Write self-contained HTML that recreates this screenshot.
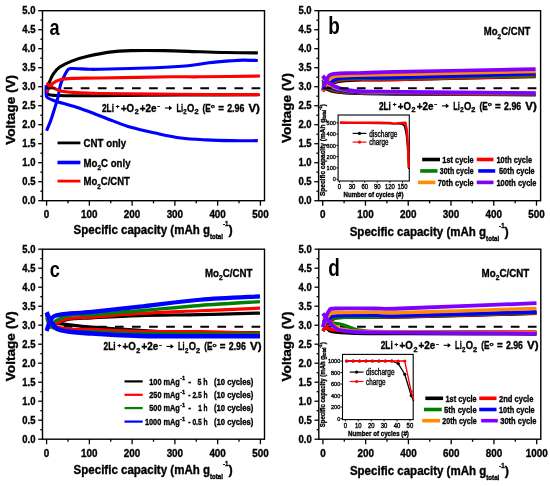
<!DOCTYPE html>
<html><head><meta charset="utf-8"><style>
html,body{margin:0;padding:0;background:#fff;width:550px;height:486px;overflow:hidden}
svg text{font-family:"Liberation Sans", sans-serif}
svg{will-change:transform}
svg text{stroke:#000;stroke-width:0.35px}
</style></head><body>
<svg width="550" height="486" viewBox="0 0 550 486" style="display:block;font-family:'Liberation Sans', sans-serif">
<rect width="550" height="486" fill="#fff"/>
<path d="M46.6,87.46 C46.74,88.47 46.74,92.27 47.46,93.54 C48.17,94.81 49.38,94.74 50.88,95.06 C52.37,95.38 52.8,95.31 56.43,95.44 C60.07,95.57 65.41,95.79 72.68,95.82 C79.95,95.85 86.58,95.72 100.05,95.63 C113.52,95.53 133.9,95.38 153.5,95.25 C173.1,95.12 200.25,94.96 217.64,94.87 C235.03,94.77 251.14,94.71 257.83,94.68" fill="none" stroke="#000000" stroke-width="3.1" stroke-linejoin="round" stroke-linecap="butt"/>
<path d="M46.6,87.84 C46.96,87.14 47.69,85.88 48.74,83.66 C49.79,81.44 51.1,77.26 52.89,74.54 C54.67,71.82 56.2,69.6 59.43,67.32 C62.66,65.04 67.55,62.7 72.26,60.86 C76.96,59.02 81.45,57.76 87.65,56.3 C93.85,54.84 102.19,53.07 109.46,52.12 C116.73,51.17 122.14,50.85 131.26,50.6 C140.39,50.35 152.72,50.41 164.19,50.6 C175.66,50.79 189.77,51.42 200.11,51.74 C210.44,52.06 216.57,52.31 226.19,52.5 C235.81,52.69 252.56,52.82 257.83,52.88" fill="none" stroke="#000000" stroke-width="3.1" stroke-linejoin="round" stroke-linecap="butt"/>
<path d="M46.6,130.78 C47.31,129.01 49.56,123.81 50.88,120.14 C52.19,116.47 53.33,112.54 54.51,108.74 C55.69,104.94 56.9,101.46 57.93,97.34 C58.96,93.22 59.53,87.84 60.71,84.04 C61.89,80.24 63.7,77.01 64.99,74.54 C66.27,72.07 67.12,70.23 68.41,69.22 C69.69,68.21 69.26,68.46 72.68,68.46 C76.1,68.46 84.37,69.09 88.93,69.22 C93.49,69.35 89,69.47 100.05,69.22 C111.1,68.97 140.53,68.27 155.21,67.7 C169.89,67.13 179.16,66.62 188.14,65.8 C197.12,64.98 202.1,63.58 209.09,62.76 C216.07,61.94 224.41,61.3 230.04,60.86 C235.67,60.42 238.24,60.16 242.87,60.1 C247.5,60.04 255.34,60.42 257.83,60.48" fill="none" stroke="#0000ff" stroke-width="3.1" stroke-linejoin="round" stroke-linecap="butt"/>
<path d="M46.17,85.18 C46.24,87.08 45.53,94.11 46.6,96.58 C47.67,99.05 50.66,99.11 52.59,100 C54.51,100.89 54.15,100.7 58.15,101.9 C62.14,103.1 70.47,105.26 76.53,107.22 C82.59,109.18 88.43,111.4 94.49,113.68 C100.55,115.96 106.82,118.62 112.88,120.9 C118.94,123.18 123.78,125.33 130.84,127.36 C137.89,129.39 146.87,131.29 155.21,133.06 C163.55,134.83 172.39,136.86 180.87,138 C189.35,139.14 197.61,139.46 206.09,139.9 C214.58,140.34 223.13,140.53 231.75,140.66 C240.37,140.79 253.49,140.66 257.83,140.66" fill="none" stroke="#0000ff" stroke-width="3.1" stroke-linejoin="round" stroke-linecap="butt"/>
<path d="M46.6,92.02 C47.65,90.56 50.48,85.37 52.89,83.28 C55.29,81.19 57.82,80.3 61.01,79.48 C64.2,78.66 65.49,78.59 72,78.34 C78.51,78.09 83.4,78.21 100.05,77.96 C116.7,77.71 155.21,77.01 171.89,76.82 C188.56,76.63 185.43,76.95 200.11,76.82 C214.79,76.69 250,76.19 259.97,76.06" fill="none" stroke="#ff0000" stroke-width="3.1" stroke-linejoin="round" stroke-linecap="butt"/>
<path d="M46.6,82.9 C47.53,83.66 49.59,86.07 52.16,87.46 C54.72,88.85 58.57,90.44 61.99,91.26 C65.41,92.08 66.34,92.02 72.68,92.4 C79.03,92.78 83.02,93.22 100.05,93.54 C117.08,93.86 148.23,94.11 174.88,94.3 C201.53,94.49 245.79,94.62 259.97,94.68" fill="none" stroke="#ff0000" stroke-width="3.1" stroke-linejoin="round" stroke-linecap="butt"/>
<line x1="46.6" y1="88.22" x2="260.4" y2="88.22" stroke="#000" stroke-width="2" stroke-dasharray="8.7,8.38"/>
<rect x="42.5" y="10.7" width="222" height="190" fill="none" stroke="#000" stroke-width="1.4"/>
<line x1="38.2" y1="200.7" x2="42.5" y2="200.7" stroke="#000" stroke-width="1.3"/>
<line x1="40.3" y1="191.2" x2="42.5" y2="191.2" stroke="#000" stroke-width="1.3"/>
<line x1="38.2" y1="181.7" x2="42.5" y2="181.7" stroke="#000" stroke-width="1.3"/>
<line x1="40.3" y1="172.2" x2="42.5" y2="172.2" stroke="#000" stroke-width="1.3"/>
<line x1="38.2" y1="162.7" x2="42.5" y2="162.7" stroke="#000" stroke-width="1.3"/>
<line x1="40.3" y1="153.2" x2="42.5" y2="153.2" stroke="#000" stroke-width="1.3"/>
<line x1="38.2" y1="143.7" x2="42.5" y2="143.7" stroke="#000" stroke-width="1.3"/>
<line x1="40.3" y1="134.2" x2="42.5" y2="134.2" stroke="#000" stroke-width="1.3"/>
<line x1="38.2" y1="124.7" x2="42.5" y2="124.7" stroke="#000" stroke-width="1.3"/>
<line x1="40.3" y1="115.2" x2="42.5" y2="115.2" stroke="#000" stroke-width="1.3"/>
<line x1="38.2" y1="105.7" x2="42.5" y2="105.7" stroke="#000" stroke-width="1.3"/>
<line x1="40.3" y1="96.2" x2="42.5" y2="96.2" stroke="#000" stroke-width="1.3"/>
<line x1="38.2" y1="86.7" x2="42.5" y2="86.7" stroke="#000" stroke-width="1.3"/>
<line x1="40.3" y1="77.2" x2="42.5" y2="77.2" stroke="#000" stroke-width="1.3"/>
<line x1="38.2" y1="67.7" x2="42.5" y2="67.7" stroke="#000" stroke-width="1.3"/>
<line x1="40.3" y1="58.2" x2="42.5" y2="58.2" stroke="#000" stroke-width="1.3"/>
<line x1="38.2" y1="48.7" x2="42.5" y2="48.7" stroke="#000" stroke-width="1.3"/>
<line x1="40.3" y1="39.2" x2="42.5" y2="39.2" stroke="#000" stroke-width="1.3"/>
<line x1="38.2" y1="29.7" x2="42.5" y2="29.7" stroke="#000" stroke-width="1.3"/>
<line x1="40.3" y1="20.2" x2="42.5" y2="20.2" stroke="#000" stroke-width="1.3"/>
<line x1="38.2" y1="10.7" x2="42.5" y2="10.7" stroke="#000" stroke-width="1.3"/>
<line x1="46.6" y1="200.7" x2="46.6" y2="205.7" stroke="#000" stroke-width="1.3"/>
<line x1="67.98" y1="200.7" x2="67.98" y2="203.3" stroke="#000" stroke-width="1.3"/>
<line x1="89.36" y1="200.7" x2="89.36" y2="205.7" stroke="#000" stroke-width="1.3"/>
<line x1="110.74" y1="200.7" x2="110.74" y2="203.3" stroke="#000" stroke-width="1.3"/>
<line x1="132.12" y1="200.7" x2="132.12" y2="205.7" stroke="#000" stroke-width="1.3"/>
<line x1="153.5" y1="200.7" x2="153.5" y2="203.3" stroke="#000" stroke-width="1.3"/>
<line x1="174.88" y1="200.7" x2="174.88" y2="205.7" stroke="#000" stroke-width="1.3"/>
<line x1="196.26" y1="200.7" x2="196.26" y2="203.3" stroke="#000" stroke-width="1.3"/>
<line x1="217.64" y1="200.7" x2="217.64" y2="205.7" stroke="#000" stroke-width="1.3"/>
<line x1="239.02" y1="200.7" x2="239.02" y2="203.3" stroke="#000" stroke-width="1.3"/>
<line x1="260.4" y1="200.7" x2="260.4" y2="205.7" stroke="#000" stroke-width="1.3"/>
<text x="35.5" y="204.4" font-size="10.3" font-weight="bold" text-anchor="end" fill="#000" textLength="13.2" lengthAdjust="spacingAndGlyphs" >0.0</text>
<text x="35.5" y="185.4" font-size="10.3" font-weight="bold" text-anchor="end" fill="#000" textLength="13.2" lengthAdjust="spacingAndGlyphs" >0.5</text>
<text x="35.5" y="166.4" font-size="10.3" font-weight="bold" text-anchor="end" fill="#000" textLength="13.2" lengthAdjust="spacingAndGlyphs" >1.0</text>
<text x="35.5" y="147.4" font-size="10.3" font-weight="bold" text-anchor="end" fill="#000" textLength="13.2" lengthAdjust="spacingAndGlyphs" >1.5</text>
<text x="35.5" y="128.4" font-size="10.3" font-weight="bold" text-anchor="end" fill="#000" textLength="13.2" lengthAdjust="spacingAndGlyphs" >2.0</text>
<text x="35.5" y="109.4" font-size="10.3" font-weight="bold" text-anchor="end" fill="#000" textLength="13.2" lengthAdjust="spacingAndGlyphs" >2.5</text>
<text x="35.5" y="90.4" font-size="10.3" font-weight="bold" text-anchor="end" fill="#000" textLength="13.2" lengthAdjust="spacingAndGlyphs" >3.0</text>
<text x="35.5" y="71.4" font-size="10.3" font-weight="bold" text-anchor="end" fill="#000" textLength="13.2" lengthAdjust="spacingAndGlyphs" >3.5</text>
<text x="35.5" y="52.4" font-size="10.3" font-weight="bold" text-anchor="end" fill="#000" textLength="13.2" lengthAdjust="spacingAndGlyphs" >4.0</text>
<text x="35.5" y="33.4" font-size="10.3" font-weight="bold" text-anchor="end" fill="#000" textLength="13.2" lengthAdjust="spacingAndGlyphs" >4.5</text>
<text x="35.5" y="14.4" font-size="10.3" font-weight="bold" text-anchor="end" fill="#000" textLength="13.2" lengthAdjust="spacingAndGlyphs" >5.0</text>
<text x="46.6" y="218.2" font-size="10.5" font-weight="bold" text-anchor="middle" fill="#000" textLength="5.5" lengthAdjust="spacingAndGlyphs" >0</text>
<text x="89.36" y="218.2" font-size="10.5" font-weight="bold" text-anchor="middle" fill="#000" textLength="16.5" lengthAdjust="spacingAndGlyphs" >100</text>
<text x="132.12" y="218.2" font-size="10.5" font-weight="bold" text-anchor="middle" fill="#000" textLength="16.5" lengthAdjust="spacingAndGlyphs" >200</text>
<text x="174.88" y="218.2" font-size="10.5" font-weight="bold" text-anchor="middle" fill="#000" textLength="16.5" lengthAdjust="spacingAndGlyphs" >300</text>
<text x="217.64" y="218.2" font-size="10.5" font-weight="bold" text-anchor="middle" fill="#000" textLength="16.5" lengthAdjust="spacingAndGlyphs" >400</text>
<text x="260.4" y="218.2" font-size="10.5" font-weight="bold" text-anchor="middle" fill="#000" textLength="16.5" lengthAdjust="spacingAndGlyphs" >500</text>
<text transform="translate(14.9,109.85) rotate(-90)" font-size="13.4" font-weight="bold" text-anchor="middle" textLength="70" lengthAdjust="spacingAndGlyphs">Voltage (V)</text>
<text x="73.6" y="234.1" font-size="12.6" font-weight="bold"><tspan textLength="136.4" lengthAdjust="spacingAndGlyphs">Specific capacity (mAh g</tspan><tspan font-size="7.2" dy="5" textLength="13" lengthAdjust="spacingAndGlyphs">total</tspan><tspan font-size="7.2" dy="-12.7" textLength="5.5" lengthAdjust="spacingAndGlyphs">-1</tspan><tspan dy="7.7">)</tspan></text>
<text x="0" y="34.9" font-size="22.6" font-weight="bold" style="stroke-width:0" transform="translate(49.5,0) scale(0.8,1)">a</text>
<text x="102" y="111.6" font-size="10.6" font-weight="bold" textLength="12" lengthAdjust="spacingAndGlyphs">2Li</text><text x="115.8" y="108.3" font-size="6.2" font-weight="bold" textLength="3.7" lengthAdjust="spacingAndGlyphs">+</text><text x="120.9" y="111.6" font-size="10.6" font-weight="bold" textLength="13.2" lengthAdjust="spacingAndGlyphs">+O</text><text x="134.7" y="114.2" font-size="6.8" font-weight="bold" textLength="4" lengthAdjust="spacingAndGlyphs">2</text><text x="139.8" y="111.6" font-size="10.6" font-weight="bold" textLength="16.8" lengthAdjust="spacingAndGlyphs">+2e</text><text x="157.3" y="108.3" font-size="6.2" font-weight="bold" textLength="2.9" lengthAdjust="spacingAndGlyphs">-</text><text x="176.4" y="111.6" font-size="10.6" font-weight="bold" textLength="6.6" lengthAdjust="spacingAndGlyphs">Li</text><text x="183.3" y="114.2" font-size="6.8" font-weight="bold" textLength="3.4" lengthAdjust="spacingAndGlyphs">2</text><text x="187.1" y="111.6" font-size="10.6" font-weight="bold" textLength="7.3" lengthAdjust="spacingAndGlyphs">O</text><text x="194.4" y="114.2" font-size="6.8" font-weight="bold" textLength="4.1" lengthAdjust="spacingAndGlyphs">2</text><text x="202.6" y="111.6" font-size="10.6" font-weight="bold" textLength="8.2" lengthAdjust="spacingAndGlyphs">(E</text><text x="210.8" y="108.3" font-size="6.2" font-weight="bold" textLength="4.1" lengthAdjust="spacingAndGlyphs">o</text><text x="218.2" y="111.6" font-size="10.6" font-weight="bold" textLength="5.7" lengthAdjust="spacingAndGlyphs">=</text><text x="227.2" y="111.6" font-size="10.6" font-weight="bold" textLength="17.1" lengthAdjust="spacingAndGlyphs">2.96</text><text x="248.4" y="111.6" font-size="10.6" font-weight="bold" textLength="11.5" lengthAdjust="spacingAndGlyphs">V)</text>
<path d="M164.9,108 H170.2" stroke="#000" stroke-width="1.1"/><path d="M169,105.6 L172.2,108 L169,110.4 Z" fill="#000"/>
<line x1="57.5" y1="142.9" x2="80.4" y2="142.9" stroke="#000000" stroke-width="2.8"/>
<line x1="57.5" y1="162.5" x2="80.4" y2="162.5" stroke="#0000ff" stroke-width="3.6"/>
<line x1="57.5" y1="181.1" x2="80.4" y2="181.1" stroke="#ff0000" stroke-width="2.8"/>
<text x="83.6" y="147.3" font-size="11.2" font-weight="bold" textLength="42.6" lengthAdjust="spacingAndGlyphs">CNT only</text>
<text x="83.6" y="166.5" font-size="11.2" font-weight="bold" textLength="46.9" lengthAdjust="spacingAndGlyphs">Mo<tspan font-size="7.5" dy="3.5">2</tspan><tspan dy="-3.5">C only</tspan></text>
<text x="83.6" y="185" font-size="11.2" font-weight="bold" textLength="46.3" lengthAdjust="spacingAndGlyphs">Mo<tspan font-size="7.5" dy="3.5">2</tspan><tspan dy="-3.5">C/CNT</tspan></text>
<path d="M322.7,84.8 C323.63,85.62 325.76,88.54 328.26,89.74 C330.75,90.94 333.1,91.45 337.67,92.02 C342.23,92.59 346.08,92.84 355.63,93.16 C365.17,93.48 364.96,93.67 394.96,93.92 C424.97,94.17 512.2,94.55 535.64,94.68" fill="none" stroke="#000000" stroke-width="3.6" stroke-linejoin="round" stroke-linecap="butt"/>
<path d="M322.7,90.5 C323.77,89.55 326.62,86.32 329.11,84.8 C331.61,83.28 333.25,82.2 337.67,81.38 C342.08,80.56 346.08,80.18 355.63,79.86 C365.17,79.54 364.96,80.05 394.96,79.48 C424.97,78.91 512.2,76.95 535.64,76.44" fill="none" stroke="#000000" stroke-width="3.6" stroke-linejoin="round" stroke-linecap="butt"/>
<path d="M322.7,82.9 C323.63,83.85 325.76,87.21 328.26,88.6 C330.75,89.99 333.1,90.56 337.67,91.26 C342.23,91.96 346.08,92.4 355.63,92.78 C365.17,93.16 364.96,93.29 394.96,93.54 C424.97,93.79 512.2,94.17 535.64,94.3" fill="none" stroke="#ff0000" stroke-width="3.4" stroke-linejoin="round" stroke-linecap="butt"/>
<path d="M322.7,91.26 C323.77,90.18 326.62,86.57 329.11,84.8 C331.61,83.03 333.25,81.57 337.67,80.62 C342.08,79.67 346.08,79.29 355.63,79.1 C365.17,78.91 364.96,79.99 394.96,79.48 C424.97,78.97 512.2,76.63 535.64,76.06" fill="none" stroke="#ff0000" stroke-width="3.4" stroke-linejoin="round" stroke-linecap="butt"/>
<path d="M322.7,81 C323.63,82.08 325.76,85.88 328.26,87.46 C330.75,89.04 333.1,89.68 337.67,90.5 C342.23,91.32 346.08,91.96 355.63,92.4 C365.17,92.84 364.96,92.91 394.96,93.16 C424.97,93.41 512.2,93.79 535.64,93.92" fill="none" stroke="#008000" stroke-width="3.4" stroke-linejoin="round" stroke-linecap="butt"/>
<path d="M322.7,91.26 C323.77,89.99 326.62,85.62 329.11,83.66 C331.61,81.7 333.25,80.37 337.67,79.48 C342.08,78.59 346.08,78.53 355.63,78.34 C365.17,78.15 364.96,78.85 394.96,78.34 C424.97,77.83 512.2,75.81 535.64,75.3" fill="none" stroke="#008000" stroke-width="3.4" stroke-linejoin="round" stroke-linecap="butt"/>
<path d="M322.7,79.1 C323.63,80.24 325.76,84.17 328.26,85.94 C330.75,87.71 333.1,88.73 337.67,89.74 C342.23,90.75 346.08,91.51 355.63,92.02 C365.17,92.53 364.96,92.53 394.96,92.78 C424.97,93.03 512.2,93.41 535.64,93.54" fill="none" stroke="#0000ff" stroke-width="3.4" stroke-linejoin="round" stroke-linecap="butt"/>
<path d="M322.7,91.26 C323.77,89.87 326.62,84.99 329.11,82.9 C331.61,80.81 333.25,79.61 337.67,78.72 C342.08,77.83 346.08,77.77 355.63,77.58 C365.17,77.39 364.96,78.21 394.96,77.58 C424.97,76.95 512.2,74.41 535.64,73.78" fill="none" stroke="#0000ff" stroke-width="3.4" stroke-linejoin="round" stroke-linecap="butt"/>
<path d="M322.7,77.58 C323.63,78.72 325.76,82.58 328.26,84.42 C330.75,86.26 333.1,87.46 337.67,88.6 C342.23,89.74 346.08,90.63 355.63,91.26 C365.17,91.89 364.96,92.08 394.96,92.4 C424.97,92.72 512.2,93.03 535.64,93.16" fill="none" stroke="#ff8c00" stroke-width="3.4" stroke-linejoin="round" stroke-linecap="butt"/>
<path d="M322.7,91.26 C323.63,89.61 326.19,83.85 328.26,81.38 C330.33,78.91 330.54,77.45 335.1,76.44 C339.66,75.43 345.65,75.62 355.63,75.3 C365.6,74.98 364.96,75.17 394.96,74.54 C424.97,73.91 512.2,72.01 535.64,71.5" fill="none" stroke="#ff8c00" stroke-width="3.4" stroke-linejoin="round" stroke-linecap="butt"/>
<path d="M322.7,75.68 C323.77,76.95 326.26,81.19 329.11,83.28 C331.96,85.37 336.17,87.02 339.8,88.22 C343.44,89.42 344.51,89.93 350.92,90.5 C357.34,91.07 347.5,91.2 378.29,91.64 C409.08,92.08 509.42,92.91 535.64,93.16" fill="none" stroke="#8000ff" stroke-width="3.8" stroke-linejoin="round" stroke-linecap="butt"/>
<path d="M322.7,90.12 C323.77,87.71 326.26,78.47 329.11,75.68 C331.96,72.89 335.39,73.84 339.8,73.4 C344.22,72.96 346.43,73.27 355.63,73.02 C364.82,72.77 364.96,72.54 394.96,71.88 C424.97,71.22 512.2,69.5 535.64,69.03" fill="none" stroke="#8000ff" stroke-width="3.7" stroke-linejoin="round" stroke-linecap="butt"/>
<line x1="322.7" y1="88.22" x2="536.5" y2="88.22" stroke="#000" stroke-width="2" stroke-dasharray="8.7,8.38"/>
<rect x="318.6" y="10.7" width="222" height="190" fill="none" stroke="#000" stroke-width="1.4"/>
<line x1="314.3" y1="200.7" x2="318.6" y2="200.7" stroke="#000" stroke-width="1.3"/>
<line x1="316.4" y1="191.2" x2="318.6" y2="191.2" stroke="#000" stroke-width="1.3"/>
<line x1="314.3" y1="181.7" x2="318.6" y2="181.7" stroke="#000" stroke-width="1.3"/>
<line x1="316.4" y1="172.2" x2="318.6" y2="172.2" stroke="#000" stroke-width="1.3"/>
<line x1="314.3" y1="162.7" x2="318.6" y2="162.7" stroke="#000" stroke-width="1.3"/>
<line x1="316.4" y1="153.2" x2="318.6" y2="153.2" stroke="#000" stroke-width="1.3"/>
<line x1="314.3" y1="143.7" x2="318.6" y2="143.7" stroke="#000" stroke-width="1.3"/>
<line x1="316.4" y1="134.2" x2="318.6" y2="134.2" stroke="#000" stroke-width="1.3"/>
<line x1="314.3" y1="124.7" x2="318.6" y2="124.7" stroke="#000" stroke-width="1.3"/>
<line x1="316.4" y1="115.2" x2="318.6" y2="115.2" stroke="#000" stroke-width="1.3"/>
<line x1="314.3" y1="105.7" x2="318.6" y2="105.7" stroke="#000" stroke-width="1.3"/>
<line x1="316.4" y1="96.2" x2="318.6" y2="96.2" stroke="#000" stroke-width="1.3"/>
<line x1="314.3" y1="86.7" x2="318.6" y2="86.7" stroke="#000" stroke-width="1.3"/>
<line x1="316.4" y1="77.2" x2="318.6" y2="77.2" stroke="#000" stroke-width="1.3"/>
<line x1="314.3" y1="67.7" x2="318.6" y2="67.7" stroke="#000" stroke-width="1.3"/>
<line x1="316.4" y1="58.2" x2="318.6" y2="58.2" stroke="#000" stroke-width="1.3"/>
<line x1="314.3" y1="48.7" x2="318.6" y2="48.7" stroke="#000" stroke-width="1.3"/>
<line x1="316.4" y1="39.2" x2="318.6" y2="39.2" stroke="#000" stroke-width="1.3"/>
<line x1="314.3" y1="29.7" x2="318.6" y2="29.7" stroke="#000" stroke-width="1.3"/>
<line x1="316.4" y1="20.2" x2="318.6" y2="20.2" stroke="#000" stroke-width="1.3"/>
<line x1="314.3" y1="10.7" x2="318.6" y2="10.7" stroke="#000" stroke-width="1.3"/>
<line x1="322.7" y1="200.7" x2="322.7" y2="205.7" stroke="#000" stroke-width="1.3"/>
<line x1="344.08" y1="200.7" x2="344.08" y2="203.3" stroke="#000" stroke-width="1.3"/>
<line x1="365.46" y1="200.7" x2="365.46" y2="205.7" stroke="#000" stroke-width="1.3"/>
<line x1="386.84" y1="200.7" x2="386.84" y2="203.3" stroke="#000" stroke-width="1.3"/>
<line x1="408.22" y1="200.7" x2="408.22" y2="205.7" stroke="#000" stroke-width="1.3"/>
<line x1="429.6" y1="200.7" x2="429.6" y2="203.3" stroke="#000" stroke-width="1.3"/>
<line x1="450.98" y1="200.7" x2="450.98" y2="205.7" stroke="#000" stroke-width="1.3"/>
<line x1="472.36" y1="200.7" x2="472.36" y2="203.3" stroke="#000" stroke-width="1.3"/>
<line x1="493.74" y1="200.7" x2="493.74" y2="205.7" stroke="#000" stroke-width="1.3"/>
<line x1="515.12" y1="200.7" x2="515.12" y2="203.3" stroke="#000" stroke-width="1.3"/>
<line x1="536.5" y1="200.7" x2="536.5" y2="205.7" stroke="#000" stroke-width="1.3"/>
<text x="311.6" y="204.4" font-size="10.3" font-weight="bold" text-anchor="end" fill="#000" textLength="13.2" lengthAdjust="spacingAndGlyphs" >0.0</text>
<text x="311.6" y="185.4" font-size="10.3" font-weight="bold" text-anchor="end" fill="#000" textLength="13.2" lengthAdjust="spacingAndGlyphs" >0.5</text>
<text x="311.6" y="166.4" font-size="10.3" font-weight="bold" text-anchor="end" fill="#000" textLength="13.2" lengthAdjust="spacingAndGlyphs" >1.0</text>
<text x="311.6" y="147.4" font-size="10.3" font-weight="bold" text-anchor="end" fill="#000" textLength="13.2" lengthAdjust="spacingAndGlyphs" >1.5</text>
<text x="311.6" y="128.4" font-size="10.3" font-weight="bold" text-anchor="end" fill="#000" textLength="13.2" lengthAdjust="spacingAndGlyphs" >2.0</text>
<text x="311.6" y="109.4" font-size="10.3" font-weight="bold" text-anchor="end" fill="#000" textLength="13.2" lengthAdjust="spacingAndGlyphs" >2.5</text>
<text x="311.6" y="90.4" font-size="10.3" font-weight="bold" text-anchor="end" fill="#000" textLength="13.2" lengthAdjust="spacingAndGlyphs" >3.0</text>
<text x="311.6" y="71.4" font-size="10.3" font-weight="bold" text-anchor="end" fill="#000" textLength="13.2" lengthAdjust="spacingAndGlyphs" >3.5</text>
<text x="311.6" y="52.4" font-size="10.3" font-weight="bold" text-anchor="end" fill="#000" textLength="13.2" lengthAdjust="spacingAndGlyphs" >4.0</text>
<text x="311.6" y="33.4" font-size="10.3" font-weight="bold" text-anchor="end" fill="#000" textLength="13.2" lengthAdjust="spacingAndGlyphs" >4.5</text>
<text x="311.6" y="14.4" font-size="10.3" font-weight="bold" text-anchor="end" fill="#000" textLength="13.2" lengthAdjust="spacingAndGlyphs" >5.0</text>
<text x="322.7" y="218.2" font-size="10.5" font-weight="bold" text-anchor="middle" fill="#000" textLength="5.5" lengthAdjust="spacingAndGlyphs" >0</text>
<text x="365.46" y="218.2" font-size="10.5" font-weight="bold" text-anchor="middle" fill="#000" textLength="16.5" lengthAdjust="spacingAndGlyphs" >100</text>
<text x="408.22" y="218.2" font-size="10.5" font-weight="bold" text-anchor="middle" fill="#000" textLength="16.5" lengthAdjust="spacingAndGlyphs" >200</text>
<text x="450.98" y="218.2" font-size="10.5" font-weight="bold" text-anchor="middle" fill="#000" textLength="16.5" lengthAdjust="spacingAndGlyphs" >300</text>
<text x="493.74" y="218.2" font-size="10.5" font-weight="bold" text-anchor="middle" fill="#000" textLength="16.5" lengthAdjust="spacingAndGlyphs" >400</text>
<text x="536.5" y="218.2" font-size="10.5" font-weight="bold" text-anchor="middle" fill="#000" textLength="16.5" lengthAdjust="spacingAndGlyphs" >500</text>
<text transform="translate(291,108.05) rotate(-90)" font-size="13.4" font-weight="bold" text-anchor="middle" textLength="70" lengthAdjust="spacingAndGlyphs">Voltage (V)</text>
<text x="349.7" y="235.9" font-size="12.6" font-weight="bold"><tspan textLength="136.4" lengthAdjust="spacingAndGlyphs">Specific capacity (mAh g</tspan><tspan font-size="7.2" dy="5" textLength="13" lengthAdjust="spacingAndGlyphs">total</tspan><tspan font-size="7.2" dy="-12.7" textLength="5.5" lengthAdjust="spacingAndGlyphs">-1</tspan><tspan dy="7.7">)</tspan></text>
<text x="0" y="34.3" font-size="23.6" font-weight="bold" style="stroke-width:0" transform="translate(328.3,0) scale(0.8,1)">b</text>
<text x="483.8" y="35" font-size="10.8" font-weight="bold" textLength="46.6" lengthAdjust="spacingAndGlyphs">Mo<tspan font-size="7.4" dy="3.5">2</tspan><tspan dy="-3.5">C/CNT</tspan></text>
<text x="378.9" y="109.5" font-size="10.6" font-weight="bold" textLength="12" lengthAdjust="spacingAndGlyphs">2Li</text><text x="392.7" y="106.2" font-size="6.2" font-weight="bold" textLength="3.7" lengthAdjust="spacingAndGlyphs">+</text><text x="397.8" y="109.5" font-size="10.6" font-weight="bold" textLength="13.2" lengthAdjust="spacingAndGlyphs">+O</text><text x="411.6" y="112.1" font-size="6.8" font-weight="bold" textLength="4" lengthAdjust="spacingAndGlyphs">2</text><text x="416.7" y="109.5" font-size="10.6" font-weight="bold" textLength="16.8" lengthAdjust="spacingAndGlyphs">+2e</text><text x="434.2" y="106.2" font-size="6.2" font-weight="bold" textLength="2.9" lengthAdjust="spacingAndGlyphs">-</text><text x="453.3" y="109.5" font-size="10.6" font-weight="bold" textLength="6.6" lengthAdjust="spacingAndGlyphs">Li</text><text x="460.2" y="112.1" font-size="6.8" font-weight="bold" textLength="3.4" lengthAdjust="spacingAndGlyphs">2</text><text x="464" y="109.5" font-size="10.6" font-weight="bold" textLength="7.3" lengthAdjust="spacingAndGlyphs">O</text><text x="471.3" y="112.1" font-size="6.8" font-weight="bold" textLength="4.1" lengthAdjust="spacingAndGlyphs">2</text><text x="479.5" y="109.5" font-size="10.6" font-weight="bold" textLength="8.2" lengthAdjust="spacingAndGlyphs">(E</text><text x="487.7" y="106.2" font-size="6.2" font-weight="bold" textLength="4.1" lengthAdjust="spacingAndGlyphs">o</text><text x="495.1" y="109.5" font-size="10.6" font-weight="bold" textLength="5.7" lengthAdjust="spacingAndGlyphs">=</text><text x="504.1" y="109.5" font-size="10.6" font-weight="bold" textLength="17.1" lengthAdjust="spacingAndGlyphs">2.96</text><text x="525.3" y="109.5" font-size="10.6" font-weight="bold" textLength="11.5" lengthAdjust="spacingAndGlyphs">V)</text>
<path d="M441.8,105.9 H447.1" stroke="#000" stroke-width="1.1"/><path d="M445.9,103.5 L449.1,105.9 L445.9,108.3 Z" fill="#000"/>
<line x1="422.2" y1="159.5" x2="440" y2="159.5" stroke="#000000" stroke-width="3.6"/>
<text x="442.3" y="163" font-size="9.8" font-weight="bold" text-anchor="start" fill="#000" textLength="31.3" lengthAdjust="spacingAndGlyphs" >1st cycle</text>
<line x1="476.7" y1="159.5" x2="493.5" y2="159.5" stroke="#ff0000" stroke-width="3.6"/>
<text x="496.5" y="163" font-size="9.8" font-weight="bold" text-anchor="start" fill="#000" textLength="35.6" lengthAdjust="spacingAndGlyphs" >10th cycle</text>
<line x1="420.2" y1="170.95" x2="437.5" y2="170.95" stroke="#008000" stroke-width="3.6"/>
<text x="439.8" y="174.45" font-size="9.8" font-weight="bold" text-anchor="start" fill="#000" textLength="33.8" lengthAdjust="spacingAndGlyphs" >30th cycle</text>
<line x1="478.2" y1="170.95" x2="495.2" y2="170.95" stroke="#0000ff" stroke-width="3.6"/>
<text x="499" y="174.45" font-size="9.8" font-weight="bold" text-anchor="start" fill="#000" textLength="35.7" lengthAdjust="spacingAndGlyphs" >50th cycle</text>
<line x1="418.1" y1="182.4" x2="435.4" y2="182.4" stroke="#ff8c00" stroke-width="3.6"/>
<text x="437.7" y="185.9" font-size="9.8" font-weight="bold" text-anchor="start" fill="#000" textLength="35.9" lengthAdjust="spacingAndGlyphs" >70th cycle</text>
<line x1="476.7" y1="182.4" x2="493.5" y2="182.4" stroke="#8000ff" stroke-width="3.6"/>
<text x="496.5" y="185.9" font-size="9.8" font-weight="bold" text-anchor="start" fill="#000" textLength="40" lengthAdjust="spacingAndGlyphs" >100th cycle</text>
<rect x="338.1" y="115" width="71.2" height="66" fill="#fff" stroke="#000" stroke-width="1.1"/>
<line x1="339.5" y1="181" x2="339.5" y2="182.8" stroke="#000" stroke-width="0.9"/>
<text x="339.5" y="188.9" font-size="6.4" font-weight="normal" text-anchor="middle" fill="#000" textLength="3.3" lengthAdjust="spacingAndGlyphs" stroke="#000" stroke-width="0.25">0</text>
<line x1="352.1" y1="181" x2="352.1" y2="182.8" stroke="#000" stroke-width="0.9"/>
<text x="352.1" y="188.9" font-size="6.4" font-weight="normal" text-anchor="middle" fill="#000" textLength="6.6" lengthAdjust="spacingAndGlyphs" stroke="#000" stroke-width="0.25">30</text>
<line x1="364.7" y1="181" x2="364.7" y2="182.8" stroke="#000" stroke-width="0.9"/>
<text x="364.7" y="188.9" font-size="6.4" font-weight="normal" text-anchor="middle" fill="#000" textLength="6.6" lengthAdjust="spacingAndGlyphs" stroke="#000" stroke-width="0.25">60</text>
<line x1="377.3" y1="181" x2="377.3" y2="182.8" stroke="#000" stroke-width="0.9"/>
<text x="377.3" y="188.9" font-size="6.4" font-weight="normal" text-anchor="middle" fill="#000" textLength="6.6" lengthAdjust="spacingAndGlyphs" stroke="#000" stroke-width="0.25">90</text>
<line x1="389.9" y1="181" x2="389.9" y2="182.8" stroke="#000" stroke-width="0.9"/>
<text x="389.9" y="188.9" font-size="6.4" font-weight="normal" text-anchor="middle" fill="#000" textLength="9.9" lengthAdjust="spacingAndGlyphs" stroke="#000" stroke-width="0.25">120</text>
<line x1="402.5" y1="181" x2="402.5" y2="182.8" stroke="#000" stroke-width="0.9"/>
<text x="402.5" y="188.9" font-size="6.4" font-weight="normal" text-anchor="middle" fill="#000" textLength="9.9" lengthAdjust="spacingAndGlyphs" stroke="#000" stroke-width="0.25">150</text>
<line x1="336.3" y1="179.2" x2="338.1" y2="179.2" stroke="#000" stroke-width="0.9"/>
<text x="335.9" y="181.4" font-size="6.2" font-weight="normal" text-anchor="end" fill="#000" textLength="3.1" lengthAdjust="spacingAndGlyphs" stroke="#000" stroke-width="0.25">0</text>
<line x1="336.3" y1="167.92" x2="338.1" y2="167.92" stroke="#000" stroke-width="0.9"/>
<text x="335.9" y="170.12" font-size="6.2" font-weight="normal" text-anchor="end" fill="#000" textLength="9.3" lengthAdjust="spacingAndGlyphs" stroke="#000" stroke-width="0.25">100</text>
<line x1="336.3" y1="156.64" x2="338.1" y2="156.64" stroke="#000" stroke-width="0.9"/>
<text x="335.9" y="158.84" font-size="6.2" font-weight="normal" text-anchor="end" fill="#000" textLength="9.3" lengthAdjust="spacingAndGlyphs" stroke="#000" stroke-width="0.25">200</text>
<line x1="336.3" y1="145.36" x2="338.1" y2="145.36" stroke="#000" stroke-width="0.9"/>
<text x="335.9" y="147.56" font-size="6.2" font-weight="normal" text-anchor="end" fill="#000" textLength="9.3" lengthAdjust="spacingAndGlyphs" stroke="#000" stroke-width="0.25">300</text>
<line x1="336.3" y1="134.08" x2="338.1" y2="134.08" stroke="#000" stroke-width="0.9"/>
<text x="335.9" y="136.28" font-size="6.2" font-weight="normal" text-anchor="end" fill="#000" textLength="9.3" lengthAdjust="spacingAndGlyphs" stroke="#000" stroke-width="0.25">400</text>
<line x1="336.3" y1="122.8" x2="338.1" y2="122.8" stroke="#000" stroke-width="0.9"/>
<text x="335.9" y="125" font-size="6.2" font-weight="normal" text-anchor="end" fill="#000" textLength="9.3" lengthAdjust="spacingAndGlyphs" stroke="#000" stroke-width="0.25">500</text>
<text x="373.5" y="196.6" font-size="7.2" font-weight="bold" text-anchor="middle" fill="#000" textLength="60" lengthAdjust="spacingAndGlyphs" >Number of cycles (#)</text>
<text transform="translate(324.6,150) rotate(-90)" font-size="7" font-weight="bold" text-anchor="middle" textLength="92" lengthAdjust="spacingAndGlyphs">Specific capacity (mAh g<tspan font-size="4.5" dy="1.5">total</tspan><tspan font-size="4.5" dy="-4">-1</tspan><tspan dy="2.5">)</tspan></text>
<path d="M339.92,122.8 L347.9,123.14 L364.7,123.25 L381.5,123.48 L398.3,123.7 L402.5,124.15 L404.6,126.18 L406.28,134.08 L407.54,146.49 L408.8,169.05" fill="none" stroke="#000000" stroke-width="1.6" stroke-linejoin="round"/>
<path d="M339.92,122.57 L352.1,122.69 L364.7,122.8 L377.3,122.8 L389.9,122.91 L394.1,123.59 L398.3,123.14 L405.44,122.8 L406.7,129.57 L407.96,145.36 L408.8,167.92" fill="none" stroke="#ff0000" stroke-width="2.4" stroke-linejoin="round"/>
<line x1="352.6" y1="133.4" x2="366.4" y2="133.4" stroke="#000" stroke-width="1.2"/><circle cx="359.5" cy="133.4" r="1.6" fill="#000"/>
<line x1="352.6" y1="142.1" x2="366.4" y2="142.1" stroke="#f00" stroke-width="1.2"/><circle cx="359.5" cy="142.1" r="1.6" fill="#f00"/>
<text x="369.2" y="136.6" font-size="8.4" font-weight="normal" text-anchor="start" fill="#000" textLength="28.3" lengthAdjust="spacingAndGlyphs" stroke="#000" stroke-width="0.3">discharge</text>
<text x="369.2" y="144.6" font-size="8.4" font-weight="normal" text-anchor="start" fill="#000" textLength="19.3" lengthAdjust="spacingAndGlyphs" stroke="#000" stroke-width="0.3">charge</text>
<line x1="46.6" y1="326.72" x2="260.4" y2="326.72" stroke="#000" stroke-width="2" stroke-dasharray="8.7,8.38"/>
<path d="M46.6,319.5 C47.31,319.94 48.6,321.46 50.88,322.16 C53.16,322.86 54.15,322.92 60.28,323.68 C66.41,324.44 75.68,325.71 87.65,326.72 C99.62,327.73 117.58,328.87 132.12,329.76 C146.66,330.65 153.57,331.53 174.88,332.04 C196.19,332.55 245.79,332.67 259.97,332.8" fill="none" stroke="#000000" stroke-width="3.2" stroke-linejoin="round" stroke-linecap="butt"/>
<path d="M46.6,329 C47.67,328.37 50.73,326.34 53.01,325.2 C55.29,324.06 57.58,323.17 60.28,322.16 C62.99,321.15 63.99,319.85 69.26,319.12 C74.54,318.39 80.17,318.36 91.93,317.79 C103.68,317.22 121.79,316.24 139.82,315.7 C157.85,315.16 180.08,315 200.11,314.56 C220.13,314.12 250,313.29 259.97,313.04" fill="none" stroke="#000000" stroke-width="3.2" stroke-linejoin="round" stroke-linecap="butt"/>
<path d="M46.6,317.6 C47.35,318.8 47.31,322.92 51.09,324.82 C54.87,326.72 62.46,328.24 69.26,329 C76.07,329.76 80.17,329 91.93,329.38 C103.68,329.76 121.79,330.9 139.82,331.28 C157.85,331.66 180.08,331.34 200.11,331.66 C220.13,331.98 250,332.93 259.97,333.18" fill="none" stroke="#ff0000" stroke-width="3.2" stroke-linejoin="round" stroke-linecap="butt"/>
<path d="M46.6,329 C47.67,328.37 50.73,326.4 53.01,325.2 C55.29,324 57.58,322.92 60.28,321.78 C62.99,320.64 63.99,319.12 69.26,318.36 C74.54,317.6 80.17,318.04 91.93,317.22 C103.68,316.4 121.79,314.5 139.82,313.42 C157.85,312.34 180.08,311.65 200.11,310.76 C220.13,309.87 250,308.54 259.97,308.1" fill="none" stroke="#ff0000" stroke-width="3.2" stroke-linejoin="round" stroke-linecap="butt"/>
<path d="M46.6,314.56 C47.35,316.59 47.31,323.93 51.09,326.72 C54.87,329.51 62.46,330.46 69.26,331.28 C76.07,332.1 80.17,331.28 91.93,331.66 C103.68,332.04 121.79,333.18 139.82,333.56 C157.85,333.94 180.08,333.81 200.11,333.94 C220.13,334.07 250,334.26 259.97,334.32" fill="none" stroke="#008000" stroke-width="3.4" stroke-linejoin="round" stroke-linecap="butt"/>
<path d="M46.6,329.76 C48.1,328.3 51.8,323.43 55.58,321.02 C59.36,318.61 63.21,316.4 69.26,315.32 C75.32,314.24 80.17,315.32 91.93,314.56 C103.68,313.8 121.79,312.28 139.82,310.76 C157.85,309.24 180.08,306.96 200.11,305.44 C220.13,303.92 250,302.27 259.97,301.64" fill="none" stroke="#008000" stroke-width="3.4" stroke-linejoin="round" stroke-linecap="butt"/>
<path d="M46.6,312.28 C47.35,313.86 48.81,318.8 51.09,321.78 C53.37,324.76 53.48,328.18 60.28,330.14 C67.09,332.1 78.67,332.61 91.93,333.56 C105.18,334.51 121.79,335.4 139.82,335.84 C157.85,336.28 180.08,336.16 200.11,336.22 C220.13,336.28 250,336.22 259.97,336.22" fill="none" stroke="#0000ff" stroke-width="4.6" stroke-linejoin="round" stroke-linecap="butt"/>
<path d="M46.6,330.9 C47.35,328.94 48.81,321.84 51.09,319.12 C53.37,316.4 53.48,315.76 60.28,314.56 C67.09,313.36 78.67,313.23 91.93,311.9 C105.18,310.57 121.79,308.61 139.82,306.58 C157.85,304.55 180.08,301.45 200.11,299.74 C220.13,298.03 250,296.89 259.97,296.32" fill="none" stroke="#0000ff" stroke-width="4.2" stroke-linejoin="round" stroke-linecap="butt"/>
<rect x="42.5" y="249.2" width="222" height="190" fill="none" stroke="#000" stroke-width="1.4"/>
<line x1="38.2" y1="439.2" x2="42.5" y2="439.2" stroke="#000" stroke-width="1.3"/>
<line x1="40.3" y1="429.7" x2="42.5" y2="429.7" stroke="#000" stroke-width="1.3"/>
<line x1="38.2" y1="420.2" x2="42.5" y2="420.2" stroke="#000" stroke-width="1.3"/>
<line x1="40.3" y1="410.7" x2="42.5" y2="410.7" stroke="#000" stroke-width="1.3"/>
<line x1="38.2" y1="401.2" x2="42.5" y2="401.2" stroke="#000" stroke-width="1.3"/>
<line x1="40.3" y1="391.7" x2="42.5" y2="391.7" stroke="#000" stroke-width="1.3"/>
<line x1="38.2" y1="382.2" x2="42.5" y2="382.2" stroke="#000" stroke-width="1.3"/>
<line x1="40.3" y1="372.7" x2="42.5" y2="372.7" stroke="#000" stroke-width="1.3"/>
<line x1="38.2" y1="363.2" x2="42.5" y2="363.2" stroke="#000" stroke-width="1.3"/>
<line x1="40.3" y1="353.7" x2="42.5" y2="353.7" stroke="#000" stroke-width="1.3"/>
<line x1="38.2" y1="344.2" x2="42.5" y2="344.2" stroke="#000" stroke-width="1.3"/>
<line x1="40.3" y1="334.7" x2="42.5" y2="334.7" stroke="#000" stroke-width="1.3"/>
<line x1="38.2" y1="325.2" x2="42.5" y2="325.2" stroke="#000" stroke-width="1.3"/>
<line x1="40.3" y1="315.7" x2="42.5" y2="315.7" stroke="#000" stroke-width="1.3"/>
<line x1="38.2" y1="306.2" x2="42.5" y2="306.2" stroke="#000" stroke-width="1.3"/>
<line x1="40.3" y1="296.7" x2="42.5" y2="296.7" stroke="#000" stroke-width="1.3"/>
<line x1="38.2" y1="287.2" x2="42.5" y2="287.2" stroke="#000" stroke-width="1.3"/>
<line x1="40.3" y1="277.7" x2="42.5" y2="277.7" stroke="#000" stroke-width="1.3"/>
<line x1="38.2" y1="268.2" x2="42.5" y2="268.2" stroke="#000" stroke-width="1.3"/>
<line x1="40.3" y1="258.7" x2="42.5" y2="258.7" stroke="#000" stroke-width="1.3"/>
<line x1="38.2" y1="249.2" x2="42.5" y2="249.2" stroke="#000" stroke-width="1.3"/>
<line x1="46.6" y1="439.2" x2="46.6" y2="444.2" stroke="#000" stroke-width="1.3"/>
<line x1="67.98" y1="439.2" x2="67.98" y2="441.8" stroke="#000" stroke-width="1.3"/>
<line x1="89.36" y1="439.2" x2="89.36" y2="444.2" stroke="#000" stroke-width="1.3"/>
<line x1="110.74" y1="439.2" x2="110.74" y2="441.8" stroke="#000" stroke-width="1.3"/>
<line x1="132.12" y1="439.2" x2="132.12" y2="444.2" stroke="#000" stroke-width="1.3"/>
<line x1="153.5" y1="439.2" x2="153.5" y2="441.8" stroke="#000" stroke-width="1.3"/>
<line x1="174.88" y1="439.2" x2="174.88" y2="444.2" stroke="#000" stroke-width="1.3"/>
<line x1="196.26" y1="439.2" x2="196.26" y2="441.8" stroke="#000" stroke-width="1.3"/>
<line x1="217.64" y1="439.2" x2="217.64" y2="444.2" stroke="#000" stroke-width="1.3"/>
<line x1="239.02" y1="439.2" x2="239.02" y2="441.8" stroke="#000" stroke-width="1.3"/>
<line x1="260.4" y1="439.2" x2="260.4" y2="444.2" stroke="#000" stroke-width="1.3"/>
<text x="35.5" y="442.9" font-size="10.3" font-weight="bold" text-anchor="end" fill="#000" textLength="13.2" lengthAdjust="spacingAndGlyphs" >0.0</text>
<text x="35.5" y="423.9" font-size="10.3" font-weight="bold" text-anchor="end" fill="#000" textLength="13.2" lengthAdjust="spacingAndGlyphs" >0.5</text>
<text x="35.5" y="404.9" font-size="10.3" font-weight="bold" text-anchor="end" fill="#000" textLength="13.2" lengthAdjust="spacingAndGlyphs" >1.0</text>
<text x="35.5" y="385.9" font-size="10.3" font-weight="bold" text-anchor="end" fill="#000" textLength="13.2" lengthAdjust="spacingAndGlyphs" >1.5</text>
<text x="35.5" y="366.9" font-size="10.3" font-weight="bold" text-anchor="end" fill="#000" textLength="13.2" lengthAdjust="spacingAndGlyphs" >2.0</text>
<text x="35.5" y="347.9" font-size="10.3" font-weight="bold" text-anchor="end" fill="#000" textLength="13.2" lengthAdjust="spacingAndGlyphs" >2.5</text>
<text x="35.5" y="328.9" font-size="10.3" font-weight="bold" text-anchor="end" fill="#000" textLength="13.2" lengthAdjust="spacingAndGlyphs" >3.0</text>
<text x="35.5" y="309.9" font-size="10.3" font-weight="bold" text-anchor="end" fill="#000" textLength="13.2" lengthAdjust="spacingAndGlyphs" >3.5</text>
<text x="35.5" y="290.9" font-size="10.3" font-weight="bold" text-anchor="end" fill="#000" textLength="13.2" lengthAdjust="spacingAndGlyphs" >4.0</text>
<text x="35.5" y="271.9" font-size="10.3" font-weight="bold" text-anchor="end" fill="#000" textLength="13.2" lengthAdjust="spacingAndGlyphs" >4.5</text>
<text x="35.5" y="252.9" font-size="10.3" font-weight="bold" text-anchor="end" fill="#000" textLength="13.2" lengthAdjust="spacingAndGlyphs" >5.0</text>
<text x="46.6" y="456.7" font-size="10.5" font-weight="bold" text-anchor="middle" fill="#000" textLength="5.5" lengthAdjust="spacingAndGlyphs" >0</text>
<text x="89.36" y="456.7" font-size="10.5" font-weight="bold" text-anchor="middle" fill="#000" textLength="16.5" lengthAdjust="spacingAndGlyphs" >100</text>
<text x="132.12" y="456.7" font-size="10.5" font-weight="bold" text-anchor="middle" fill="#000" textLength="16.5" lengthAdjust="spacingAndGlyphs" >200</text>
<text x="174.88" y="456.7" font-size="10.5" font-weight="bold" text-anchor="middle" fill="#000" textLength="16.5" lengthAdjust="spacingAndGlyphs" >300</text>
<text x="217.64" y="456.7" font-size="10.5" font-weight="bold" text-anchor="middle" fill="#000" textLength="16.5" lengthAdjust="spacingAndGlyphs" >400</text>
<text x="260.4" y="456.7" font-size="10.5" font-weight="bold" text-anchor="middle" fill="#000" textLength="16.5" lengthAdjust="spacingAndGlyphs" >500</text>
<text transform="translate(14.9,346.2) rotate(-90)" font-size="13.4" font-weight="bold" text-anchor="middle" textLength="70" lengthAdjust="spacingAndGlyphs">Voltage (V)</text>
<text x="73.6" y="473.6" font-size="12.6" font-weight="bold"><tspan textLength="136.4" lengthAdjust="spacingAndGlyphs">Specific capacity (mAh g</tspan><tspan font-size="7.2" dy="5" textLength="13" lengthAdjust="spacingAndGlyphs">total</tspan><tspan font-size="7.2" dy="-12.7" textLength="5.5" lengthAdjust="spacingAndGlyphs">-1</tspan><tspan dy="7.7">)</tspan></text>
<text x="0" y="277" font-size="22.6" font-weight="bold" style="stroke-width:0" transform="translate(49.7,0) scale(0.8,1)">c</text>
<text x="205" y="276.5" font-size="10.8" font-weight="bold" textLength="47.5" lengthAdjust="spacingAndGlyphs">Mo<tspan font-size="7.4" dy="3.5">2</tspan><tspan dy="-3.5">C/CNT</tspan></text>
<text x="103.6" y="350" font-size="10.6" font-weight="bold" textLength="12" lengthAdjust="spacingAndGlyphs">2Li</text><text x="117.4" y="346.7" font-size="6.2" font-weight="bold" textLength="3.7" lengthAdjust="spacingAndGlyphs">+</text><text x="122.5" y="350" font-size="10.6" font-weight="bold" textLength="13.2" lengthAdjust="spacingAndGlyphs">+O</text><text x="136.3" y="352.6" font-size="6.8" font-weight="bold" textLength="4" lengthAdjust="spacingAndGlyphs">2</text><text x="141.4" y="350" font-size="10.6" font-weight="bold" textLength="16.8" lengthAdjust="spacingAndGlyphs">+2e</text><text x="158.9" y="346.7" font-size="6.2" font-weight="bold" textLength="2.9" lengthAdjust="spacingAndGlyphs">-</text><text x="178" y="350" font-size="10.6" font-weight="bold" textLength="6.6" lengthAdjust="spacingAndGlyphs">Li</text><text x="184.9" y="352.6" font-size="6.8" font-weight="bold" textLength="3.4" lengthAdjust="spacingAndGlyphs">2</text><text x="188.7" y="350" font-size="10.6" font-weight="bold" textLength="7.3" lengthAdjust="spacingAndGlyphs">O</text><text x="196" y="352.6" font-size="6.8" font-weight="bold" textLength="4.1" lengthAdjust="spacingAndGlyphs">2</text><text x="204.2" y="350" font-size="10.6" font-weight="bold" textLength="8.2" lengthAdjust="spacingAndGlyphs">(E</text><text x="212.4" y="346.7" font-size="6.2" font-weight="bold" textLength="4.1" lengthAdjust="spacingAndGlyphs">o</text><text x="219.8" y="350" font-size="10.6" font-weight="bold" textLength="5.7" lengthAdjust="spacingAndGlyphs">=</text><text x="228.8" y="350" font-size="10.6" font-weight="bold" textLength="17.1" lengthAdjust="spacingAndGlyphs">2.96</text><text x="250" y="350" font-size="10.6" font-weight="bold" textLength="11.5" lengthAdjust="spacingAndGlyphs">V)</text>
<path d="M166.5,346.4 H171.8" stroke="#000" stroke-width="1.1"/><path d="M170.6,344 L173.8,346.4 L170.6,348.8 Z" fill="#000"/>
<line x1="124.5" y1="381.4" x2="142.7" y2="381.4" stroke="#000000" stroke-width="2.2"/>
<line x1="124.5" y1="394.8" x2="142.7" y2="394.8" stroke="#ff0000" stroke-width="2.2"/>
<line x1="124.5" y1="408.1" x2="142.7" y2="408.1" stroke="#008000" stroke-width="2.2"/>
<line x1="124.5" y1="421.6" x2="142.7" y2="421.6" stroke="#0000ff" stroke-width="2.2"/>
<text x="149.3" y="384.5" font-size="8.8" font-weight="bold" textLength="30.5" lengthAdjust="spacingAndGlyphs">100 mAg</text>
<text x="180.2" y="380.3" font-size="5.6" font-weight="bold" text-anchor="start" fill="#000" >-1</text>
<text x="188.3" y="384.5" font-size="8.8" font-weight="bold" text-anchor="start" fill="#000" >-</text>
<text x="197.4" y="384.5" font-size="8.8" font-weight="bold" text-anchor="start" fill="#000" textLength="10.2" lengthAdjust="spacingAndGlyphs" >5 h</text>
<text x="214" y="384.5" font-size="8.8" font-weight="bold" text-anchor="start" fill="#000" textLength="39.4" lengthAdjust="spacingAndGlyphs" >(10 cycles)</text>
<text x="149.3" y="397.9" font-size="8.8" font-weight="bold" textLength="30.5" lengthAdjust="spacingAndGlyphs">250 mAg</text>
<text x="180.2" y="393.7" font-size="5.6" font-weight="bold" text-anchor="start" fill="#000" >-1</text>
<text x="188.3" y="397.9" font-size="8.8" font-weight="bold" text-anchor="start" fill="#000" textLength="19.3" lengthAdjust="spacingAndGlyphs" >- 2.5 h</text>
<text x="214" y="397.9" font-size="8.8" font-weight="bold" text-anchor="start" fill="#000" textLength="39.4" lengthAdjust="spacingAndGlyphs" >(10 cycles)</text>
<text x="149.3" y="411.2" font-size="8.8" font-weight="bold" textLength="30.5" lengthAdjust="spacingAndGlyphs">500 mAg</text>
<text x="180.2" y="407" font-size="5.6" font-weight="bold" text-anchor="start" fill="#000" >-1</text>
<text x="188.3" y="411.2" font-size="8.8" font-weight="bold" text-anchor="start" fill="#000" >-</text>
<text x="198.2" y="411.2" font-size="8.8" font-weight="bold" text-anchor="start" fill="#000" textLength="9.4" lengthAdjust="spacingAndGlyphs" >1 h</text>
<text x="214" y="411.2" font-size="8.8" font-weight="bold" text-anchor="start" fill="#000" textLength="39.4" lengthAdjust="spacingAndGlyphs" >(10 cycles)</text>
<text x="144.9" y="424.7" font-size="8.8" font-weight="bold" textLength="34.9" lengthAdjust="spacingAndGlyphs">1000 mAg</text>
<text x="180.2" y="420.5" font-size="5.6" font-weight="bold" text-anchor="start" fill="#000" >-1</text>
<text x="188.3" y="424.7" font-size="8.8" font-weight="bold" text-anchor="start" fill="#000" textLength="19.3" lengthAdjust="spacingAndGlyphs" >- 0.5 h</text>
<text x="214" y="424.7" font-size="8.8" font-weight="bold" text-anchor="start" fill="#000" textLength="39.4" lengthAdjust="spacingAndGlyphs" >(10 cycles)</text>
<line x1="322.9" y1="326.72" x2="536.7" y2="326.72" stroke="#000" stroke-width="2" stroke-dasharray="8.7,8.38"/>
<path d="M322.9,325.2 C323.58,325.71 325.39,327.16 326.96,328.24 C328.53,329.32 327.78,330.84 332.31,331.66 C336.83,332.48 341.43,332.86 354.11,333.18 C366.8,333.5 378.02,333.43 408.42,333.56 C438.82,333.69 515.14,333.88 536.49,333.94" fill="none" stroke="#000000" stroke-width="3.4" stroke-linejoin="round" stroke-linecap="butt"/>
<path d="M322.9,330.9 C323.61,329.95 325.61,327.1 327.18,325.2 C328.74,323.3 329.46,320.83 332.31,319.5 C335.16,318.17 331.59,317.66 344.28,317.22 C356.97,316.78 376.39,317.47 408.42,316.84 C440.45,316.21 515.14,313.99 536.49,313.42" fill="none" stroke="#000000" stroke-width="3.4" stroke-linejoin="round" stroke-linecap="butt"/>
<path d="M322.9,325.2 C323.61,325.71 324.33,327.35 327.18,328.24 C330.03,329.13 330.03,329.95 340,330.52 C349.98,331.09 354.29,331.41 387.04,331.66 C419.79,331.91 511.58,331.98 536.49,332.04" fill="none" stroke="#ff0000" stroke-width="3.4" stroke-linejoin="round" stroke-linecap="butt"/>
<path d="M322.9,330.9 C323.61,329.95 325.61,327.1 327.18,325.2 C328.74,323.3 329.46,320.89 332.31,319.5 C335.16,318.11 331.59,317.35 344.28,316.84 C356.97,316.33 376.39,317.09 408.42,316.46 C440.45,315.83 515.14,313.61 536.49,313.04" fill="none" stroke="#ff0000" stroke-width="3.4" stroke-linejoin="round" stroke-linecap="butt"/>
<path d="M322.9,321.4 C324.47,321.65 328.92,322.35 332.31,322.92 C335.69,323.49 339.93,323.93 343.21,324.82 C346.49,325.71 348.88,327.29 351.98,328.24 C355.08,329.19 355.97,329.89 361.81,330.52 C367.66,331.15 357.93,331.66 387.04,332.04 C416.15,332.42 511.58,332.67 536.49,332.8" fill="none" stroke="#008000" stroke-width="3.4" stroke-linejoin="round" stroke-linecap="butt"/>
<path d="M322.9,327.1 C323.61,326.15 325.04,322.98 327.18,321.4 C329.31,319.82 327.6,318.36 335.73,317.6 C343.85,316.84 342.46,317.66 375.92,316.84 C409.38,316.02 509.73,313.36 536.49,312.66" fill="none" stroke="#008000" stroke-width="3.4" stroke-linejoin="round" stroke-linecap="butt"/>
<path d="M322.9,319.5 C323.97,320.13 326.82,321.84 329.31,323.3 C331.81,324.76 334.62,327.04 337.87,328.24 C341.11,329.44 340.57,329.95 348.77,330.52 C356.97,331.09 355.75,331.28 387.04,331.66 C418.33,332.04 511.58,332.61 536.49,332.8" fill="none" stroke="#0000ff" stroke-width="3.4" stroke-linejoin="round" stroke-linecap="butt"/>
<path d="M322.9,327.1 C323.43,326.15 324.68,323.11 326.11,321.4 C327.53,319.69 329.49,317.79 331.45,316.84 C333.41,315.89 330.45,315.95 337.87,315.7 C345.28,315.45 365.55,315.32 375.92,315.32 C386.29,315.32 373.32,316.27 400.08,315.7 C426.84,315.13 513.75,312.53 536.49,311.9" fill="none" stroke="#0000ff" stroke-width="3.6" stroke-linejoin="round" stroke-linecap="butt"/>
<path d="M322.9,317.6 C323.97,318.36 326.82,320.45 329.31,322.16 C331.81,323.87 334.62,326.47 337.87,327.86 C341.11,329.25 340.57,329.89 348.77,330.52 C356.97,331.15 355.75,331.28 387.04,331.66 C418.33,332.04 511.58,332.61 536.49,332.8" fill="none" stroke="#ff8c00" stroke-width="3.4" stroke-linejoin="round" stroke-linecap="butt"/>
<path d="M322.9,327.1 C323.43,325.83 324.86,321.72 326.11,319.5 C327.35,317.28 328.78,314.94 330.38,313.8 C331.99,312.66 328.14,312.91 335.73,312.66 C343.32,312.41 365.2,312.28 375.92,312.28 C386.65,312.28 373.32,313.29 400.08,312.66 C426.84,312.03 513.75,309.18 536.49,308.48" fill="none" stroke="#ff8c00" stroke-width="3.6" stroke-linejoin="round" stroke-linecap="butt"/>
<path d="M322.9,313.42 C324.11,315 327.67,320.26 330.17,322.92 C332.66,325.58 334.77,327.99 337.87,329.38 C340.97,330.77 342.43,330.77 348.77,331.28 C355.11,331.79 344.64,332.04 375.92,332.42 C407.21,332.8 509.73,333.37 536.49,333.56" fill="none" stroke="#8000ff" stroke-width="3.8" stroke-linejoin="round" stroke-linecap="butt"/>
<path d="M322.9,327.1 C323.26,325.83 324,322.22 325.04,319.5 C326.07,316.78 327.35,312.6 329.1,310.76 C330.85,308.92 327.71,308.86 335.51,308.48 C343.32,308.1 365.16,308.48 375.92,308.48 C386.68,308.48 373.32,309.37 400.08,308.48 C426.84,307.59 513.75,304.05 536.49,303.16" fill="none" stroke="#8000ff" stroke-width="3.8" stroke-linejoin="round" stroke-linecap="butt"/>
<rect x="318.8" y="249.2" width="222" height="190" fill="none" stroke="#000" stroke-width="1.4"/>
<line x1="314.5" y1="439.2" x2="318.8" y2="439.2" stroke="#000" stroke-width="1.3"/>
<line x1="316.6" y1="429.7" x2="318.8" y2="429.7" stroke="#000" stroke-width="1.3"/>
<line x1="314.5" y1="420.2" x2="318.8" y2="420.2" stroke="#000" stroke-width="1.3"/>
<line x1="316.6" y1="410.7" x2="318.8" y2="410.7" stroke="#000" stroke-width="1.3"/>
<line x1="314.5" y1="401.2" x2="318.8" y2="401.2" stroke="#000" stroke-width="1.3"/>
<line x1="316.6" y1="391.7" x2="318.8" y2="391.7" stroke="#000" stroke-width="1.3"/>
<line x1="314.5" y1="382.2" x2="318.8" y2="382.2" stroke="#000" stroke-width="1.3"/>
<line x1="316.6" y1="372.7" x2="318.8" y2="372.7" stroke="#000" stroke-width="1.3"/>
<line x1="314.5" y1="363.2" x2="318.8" y2="363.2" stroke="#000" stroke-width="1.3"/>
<line x1="316.6" y1="353.7" x2="318.8" y2="353.7" stroke="#000" stroke-width="1.3"/>
<line x1="314.5" y1="344.2" x2="318.8" y2="344.2" stroke="#000" stroke-width="1.3"/>
<line x1="316.6" y1="334.7" x2="318.8" y2="334.7" stroke="#000" stroke-width="1.3"/>
<line x1="314.5" y1="325.2" x2="318.8" y2="325.2" stroke="#000" stroke-width="1.3"/>
<line x1="316.6" y1="315.7" x2="318.8" y2="315.7" stroke="#000" stroke-width="1.3"/>
<line x1="314.5" y1="306.2" x2="318.8" y2="306.2" stroke="#000" stroke-width="1.3"/>
<line x1="316.6" y1="296.7" x2="318.8" y2="296.7" stroke="#000" stroke-width="1.3"/>
<line x1="314.5" y1="287.2" x2="318.8" y2="287.2" stroke="#000" stroke-width="1.3"/>
<line x1="316.6" y1="277.7" x2="318.8" y2="277.7" stroke="#000" stroke-width="1.3"/>
<line x1="314.5" y1="268.2" x2="318.8" y2="268.2" stroke="#000" stroke-width="1.3"/>
<line x1="316.6" y1="258.7" x2="318.8" y2="258.7" stroke="#000" stroke-width="1.3"/>
<line x1="314.5" y1="249.2" x2="318.8" y2="249.2" stroke="#000" stroke-width="1.3"/>
<line x1="322.9" y1="439.2" x2="322.9" y2="444.2" stroke="#000" stroke-width="1.3"/>
<line x1="344.28" y1="439.2" x2="344.28" y2="441.8" stroke="#000" stroke-width="1.3"/>
<line x1="365.66" y1="439.2" x2="365.66" y2="444.2" stroke="#000" stroke-width="1.3"/>
<line x1="387.04" y1="439.2" x2="387.04" y2="441.8" stroke="#000" stroke-width="1.3"/>
<line x1="408.42" y1="439.2" x2="408.42" y2="444.2" stroke="#000" stroke-width="1.3"/>
<line x1="429.8" y1="439.2" x2="429.8" y2="441.8" stroke="#000" stroke-width="1.3"/>
<line x1="451.18" y1="439.2" x2="451.18" y2="444.2" stroke="#000" stroke-width="1.3"/>
<line x1="472.56" y1="439.2" x2="472.56" y2="441.8" stroke="#000" stroke-width="1.3"/>
<line x1="493.94" y1="439.2" x2="493.94" y2="444.2" stroke="#000" stroke-width="1.3"/>
<line x1="515.32" y1="439.2" x2="515.32" y2="441.8" stroke="#000" stroke-width="1.3"/>
<line x1="536.7" y1="439.2" x2="536.7" y2="444.2" stroke="#000" stroke-width="1.3"/>
<text x="311.8" y="442.9" font-size="10.3" font-weight="bold" text-anchor="end" fill="#000" textLength="13.2" lengthAdjust="spacingAndGlyphs" >0.0</text>
<text x="311.8" y="423.9" font-size="10.3" font-weight="bold" text-anchor="end" fill="#000" textLength="13.2" lengthAdjust="spacingAndGlyphs" >0.5</text>
<text x="311.8" y="404.9" font-size="10.3" font-weight="bold" text-anchor="end" fill="#000" textLength="13.2" lengthAdjust="spacingAndGlyphs" >1.0</text>
<text x="311.8" y="385.9" font-size="10.3" font-weight="bold" text-anchor="end" fill="#000" textLength="13.2" lengthAdjust="spacingAndGlyphs" >1.5</text>
<text x="311.8" y="366.9" font-size="10.3" font-weight="bold" text-anchor="end" fill="#000" textLength="13.2" lengthAdjust="spacingAndGlyphs" >2.0</text>
<text x="311.8" y="347.9" font-size="10.3" font-weight="bold" text-anchor="end" fill="#000" textLength="13.2" lengthAdjust="spacingAndGlyphs" >2.5</text>
<text x="311.8" y="328.9" font-size="10.3" font-weight="bold" text-anchor="end" fill="#000" textLength="13.2" lengthAdjust="spacingAndGlyphs" >3.0</text>
<text x="311.8" y="309.9" font-size="10.3" font-weight="bold" text-anchor="end" fill="#000" textLength="13.2" lengthAdjust="spacingAndGlyphs" >3.5</text>
<text x="311.8" y="290.9" font-size="10.3" font-weight="bold" text-anchor="end" fill="#000" textLength="13.2" lengthAdjust="spacingAndGlyphs" >4.0</text>
<text x="311.8" y="271.9" font-size="10.3" font-weight="bold" text-anchor="end" fill="#000" textLength="13.2" lengthAdjust="spacingAndGlyphs" >4.5</text>
<text x="311.8" y="252.9" font-size="10.3" font-weight="bold" text-anchor="end" fill="#000" textLength="13.2" lengthAdjust="spacingAndGlyphs" >5.0</text>
<text x="322.9" y="456.7" font-size="10.5" font-weight="bold" text-anchor="middle" fill="#000" textLength="5.5" lengthAdjust="spacingAndGlyphs" >0</text>
<text x="365.66" y="456.7" font-size="10.5" font-weight="bold" text-anchor="middle" fill="#000" textLength="16.5" lengthAdjust="spacingAndGlyphs" >200</text>
<text x="408.42" y="456.7" font-size="10.5" font-weight="bold" text-anchor="middle" fill="#000" textLength="16.5" lengthAdjust="spacingAndGlyphs" >400</text>
<text x="451.18" y="456.7" font-size="10.5" font-weight="bold" text-anchor="middle" fill="#000" textLength="16.5" lengthAdjust="spacingAndGlyphs" >600</text>
<text x="493.94" y="456.7" font-size="10.5" font-weight="bold" text-anchor="middle" fill="#000" textLength="16.5" lengthAdjust="spacingAndGlyphs" >800</text>
<text x="536.7" y="456.7" font-size="10.5" font-weight="bold" text-anchor="middle" fill="#000" textLength="22" lengthAdjust="spacingAndGlyphs" >1000</text>
<text transform="translate(291.2,346.45) rotate(-90)" font-size="13.4" font-weight="bold" text-anchor="middle" textLength="70" lengthAdjust="spacingAndGlyphs">Voltage (V)</text>
<text x="349.9" y="475.3" font-size="12.6" font-weight="bold"><tspan textLength="136.4" lengthAdjust="spacingAndGlyphs">Specific capacity (mAh g</tspan><tspan font-size="7.2" dy="5" textLength="13" lengthAdjust="spacingAndGlyphs">total</tspan><tspan font-size="7.2" dy="-12.7" textLength="5.5" lengthAdjust="spacingAndGlyphs">-1</tspan><tspan dy="7.7">)</tspan></text>
<text x="0" y="275.6" font-size="23.6" font-weight="bold" style="stroke-width:0" transform="translate(328.2,0) scale(0.8,1)">d</text>
<text x="481.5" y="276.5" font-size="10.8" font-weight="bold" textLength="47.8" lengthAdjust="spacingAndGlyphs">Mo<tspan font-size="7.4" dy="3.5">2</tspan><tspan dy="-3.5">C/CNT</tspan></text>
<text x="380.7" y="348.9" font-size="10.6" font-weight="bold" textLength="12" lengthAdjust="spacingAndGlyphs">2Li</text><text x="394.5" y="345.6" font-size="6.2" font-weight="bold" textLength="3.7" lengthAdjust="spacingAndGlyphs">+</text><text x="399.6" y="348.9" font-size="10.6" font-weight="bold" textLength="13.2" lengthAdjust="spacingAndGlyphs">+O</text><text x="413.4" y="351.5" font-size="6.8" font-weight="bold" textLength="4" lengthAdjust="spacingAndGlyphs">2</text><text x="418.5" y="348.9" font-size="10.6" font-weight="bold" textLength="16.8" lengthAdjust="spacingAndGlyphs">+2e</text><text x="436" y="345.6" font-size="6.2" font-weight="bold" textLength="2.9" lengthAdjust="spacingAndGlyphs">-</text><text x="455.1" y="348.9" font-size="10.6" font-weight="bold" textLength="6.6" lengthAdjust="spacingAndGlyphs">Li</text><text x="462" y="351.5" font-size="6.8" font-weight="bold" textLength="3.4" lengthAdjust="spacingAndGlyphs">2</text><text x="465.8" y="348.9" font-size="10.6" font-weight="bold" textLength="7.3" lengthAdjust="spacingAndGlyphs">O</text><text x="473.1" y="351.5" font-size="6.8" font-weight="bold" textLength="4.1" lengthAdjust="spacingAndGlyphs">2</text><text x="481.3" y="348.9" font-size="10.6" font-weight="bold" textLength="8.2" lengthAdjust="spacingAndGlyphs">(E</text><text x="489.5" y="345.6" font-size="6.2" font-weight="bold" textLength="4.1" lengthAdjust="spacingAndGlyphs">o</text><text x="496.9" y="348.9" font-size="10.6" font-weight="bold" textLength="5.7" lengthAdjust="spacingAndGlyphs">=</text><text x="505.9" y="348.9" font-size="10.6" font-weight="bold" textLength="17.1" lengthAdjust="spacingAndGlyphs">2.96</text><text x="527.1" y="348.9" font-size="10.6" font-weight="bold" textLength="11.5" lengthAdjust="spacingAndGlyphs">V)</text>
<path d="M443.6,345.3 H448.9" stroke="#000" stroke-width="1.1"/><path d="M447.7,342.9 L450.9,345.3 L447.7,347.7 Z" fill="#000"/>
<line x1="425.3" y1="398.3" x2="443.1" y2="398.3" stroke="#000000" stroke-width="3.6"/>
<text x="445.4" y="401.8" font-size="9.8" font-weight="bold" text-anchor="start" fill="#000" textLength="31.3" lengthAdjust="spacingAndGlyphs" >1st cycle</text>
<line x1="479.2" y1="398.3" x2="496.5" y2="398.3" stroke="#ff0000" stroke-width="3.6"/>
<text x="499" y="401.8" font-size="9.8" font-weight="bold" text-anchor="start" fill="#000" textLength="34.4" lengthAdjust="spacingAndGlyphs" >2nd cycle</text>
<line x1="424" y1="409.5" x2="441.8" y2="409.5" stroke="#008000" stroke-width="3.6"/>
<text x="444.1" y="413" font-size="9.8" font-weight="bold" text-anchor="start" fill="#000" textLength="32.6" lengthAdjust="spacingAndGlyphs" >5th cycle</text>
<line x1="479.2" y1="409.5" x2="496.5" y2="409.5" stroke="#0000ff" stroke-width="3.6"/>
<text x="499" y="413" font-size="9.8" font-weight="bold" text-anchor="start" fill="#000" textLength="35.7" lengthAdjust="spacingAndGlyphs" >10th cycle</text>
<line x1="422.2" y1="420.7" x2="440" y2="420.7" stroke="#ff8c00" stroke-width="3.6"/>
<text x="442.3" y="424.2" font-size="9.8" font-weight="bold" text-anchor="start" fill="#000" textLength="34.4" lengthAdjust="spacingAndGlyphs" >20th cycle</text>
<line x1="481.2" y1="420.7" x2="497.8" y2="420.7" stroke="#8000ff" stroke-width="3.6"/>
<text x="500.3" y="424.2" font-size="9.8" font-weight="bold" text-anchor="start" fill="#000" textLength="36.2" lengthAdjust="spacingAndGlyphs" >30th cycle</text>
<rect x="342.5" y="354.4" width="70.7" height="65.2" fill="#fff" stroke="#000" stroke-width="1.1"/>
<line x1="345.4" y1="419.6" x2="345.4" y2="421.4" stroke="#000" stroke-width="0.9"/>
<text x="345.4" y="427.5" font-size="6.4" font-weight="normal" text-anchor="middle" fill="#000" textLength="3.3" lengthAdjust="spacingAndGlyphs" stroke="#000" stroke-width="0.25">0</text>
<line x1="358.3" y1="419.6" x2="358.3" y2="421.4" stroke="#000" stroke-width="0.9"/>
<text x="358.3" y="427.5" font-size="6.4" font-weight="normal" text-anchor="middle" fill="#000" textLength="6.6" lengthAdjust="spacingAndGlyphs" stroke="#000" stroke-width="0.25">10</text>
<line x1="371.2" y1="419.6" x2="371.2" y2="421.4" stroke="#000" stroke-width="0.9"/>
<text x="371.2" y="427.5" font-size="6.4" font-weight="normal" text-anchor="middle" fill="#000" textLength="6.6" lengthAdjust="spacingAndGlyphs" stroke="#000" stroke-width="0.25">20</text>
<line x1="384.1" y1="419.6" x2="384.1" y2="421.4" stroke="#000" stroke-width="0.9"/>
<text x="384.1" y="427.5" font-size="6.4" font-weight="normal" text-anchor="middle" fill="#000" textLength="6.6" lengthAdjust="spacingAndGlyphs" stroke="#000" stroke-width="0.25">30</text>
<line x1="397" y1="419.6" x2="397" y2="421.4" stroke="#000" stroke-width="0.9"/>
<text x="397" y="427.5" font-size="6.4" font-weight="normal" text-anchor="middle" fill="#000" textLength="6.6" lengthAdjust="spacingAndGlyphs" stroke="#000" stroke-width="0.25">40</text>
<line x1="409.9" y1="419.6" x2="409.9" y2="421.4" stroke="#000" stroke-width="0.9"/>
<text x="409.9" y="427.5" font-size="6.4" font-weight="normal" text-anchor="middle" fill="#000" textLength="6.6" lengthAdjust="spacingAndGlyphs" stroke="#000" stroke-width="0.25">50</text>
<line x1="340.7" y1="418.6" x2="342.5" y2="418.6" stroke="#000" stroke-width="0.9"/>
<text x="340.3" y="420.8" font-size="6.2" font-weight="normal" text-anchor="end" fill="#000" textLength="3.1" lengthAdjust="spacingAndGlyphs" stroke="#000" stroke-width="0.25">0</text>
<line x1="340.7" y1="407.08" x2="342.5" y2="407.08" stroke="#000" stroke-width="0.9"/>
<text x="340.3" y="409.28" font-size="6.2" font-weight="normal" text-anchor="end" fill="#000" textLength="9.3" lengthAdjust="spacingAndGlyphs" stroke="#000" stroke-width="0.25">200</text>
<line x1="340.7" y1="395.56" x2="342.5" y2="395.56" stroke="#000" stroke-width="0.9"/>
<text x="340.3" y="397.76" font-size="6.2" font-weight="normal" text-anchor="end" fill="#000" textLength="9.3" lengthAdjust="spacingAndGlyphs" stroke="#000" stroke-width="0.25">400</text>
<line x1="340.7" y1="384.04" x2="342.5" y2="384.04" stroke="#000" stroke-width="0.9"/>
<text x="340.3" y="386.24" font-size="6.2" font-weight="normal" text-anchor="end" fill="#000" textLength="9.3" lengthAdjust="spacingAndGlyphs" stroke="#000" stroke-width="0.25">600</text>
<line x1="340.7" y1="372.52" x2="342.5" y2="372.52" stroke="#000" stroke-width="0.9"/>
<text x="340.3" y="374.72" font-size="6.2" font-weight="normal" text-anchor="end" fill="#000" textLength="9.3" lengthAdjust="spacingAndGlyphs" stroke="#000" stroke-width="0.25">800</text>
<line x1="340.7" y1="361" x2="342.5" y2="361" stroke="#000" stroke-width="0.9"/>
<text x="340.3" y="363.2" font-size="6.2" font-weight="normal" text-anchor="end" fill="#000" textLength="12.4" lengthAdjust="spacingAndGlyphs" stroke="#000" stroke-width="0.25">1000</text>
<text x="378.5" y="436.2" font-size="7.2" font-weight="bold" text-anchor="middle" fill="#000" textLength="60.8" lengthAdjust="spacingAndGlyphs" >Number of cycles (#)</text>
<text transform="translate(324.8,384.8) rotate(-90)" font-size="7" font-weight="bold" text-anchor="middle" textLength="85" lengthAdjust="spacingAndGlyphs">Specific capacity (mAh g<tspan font-size="4.5" dy="1.5">total</tspan><tspan font-size="4.5" dy="-4">-1</tspan><tspan dy="2.5">)</tspan></text>
<path d="M346.69,361 L391.84,361 L398.29,363.59 L404.74,374.25 L411.19,395.56 L413.77,401.32" fill="none" stroke="#000000" stroke-width="1.3" stroke-linejoin="round"/>
<circle cx="346.69" cy="361" r="1.6" fill="#000000"/>
<circle cx="353.14" cy="361" r="1.6" fill="#000000"/>
<circle cx="359.59" cy="361" r="1.6" fill="#000000"/>
<circle cx="366.04" cy="361" r="1.6" fill="#000000"/>
<circle cx="372.49" cy="361" r="1.6" fill="#000000"/>
<circle cx="378.94" cy="361" r="1.6" fill="#000000"/>
<circle cx="385.39" cy="361" r="1.6" fill="#000000"/>
<circle cx="391.84" cy="361" r="1.6" fill="#000000"/>
<circle cx="398.29" cy="363.59" r="1.6" fill="#000000"/>
<circle cx="404.74" cy="374.25" r="1.6" fill="#000000"/>
<circle cx="411.19" cy="395.56" r="1.6" fill="#000000"/>
<path d="M346.69,361 L404.74,361 L411.19,391.53 L413.77,400.17" fill="none" stroke="#ff0000" stroke-width="1.3" stroke-linejoin="round"/>
<circle cx="346.69" cy="361" r="1.6" fill="#ff0000"/>
<circle cx="353.14" cy="361" r="1.6" fill="#ff0000"/>
<circle cx="359.59" cy="361" r="1.6" fill="#ff0000"/>
<circle cx="366.04" cy="361" r="1.6" fill="#ff0000"/>
<circle cx="372.49" cy="361" r="1.6" fill="#ff0000"/>
<circle cx="378.94" cy="361" r="1.6" fill="#ff0000"/>
<circle cx="385.39" cy="361" r="1.6" fill="#ff0000"/>
<circle cx="391.84" cy="361" r="1.6" fill="#ff0000"/>
<circle cx="398.29" cy="361" r="1.6" fill="#ff0000"/>
<circle cx="404.74" cy="361" r="1.6" fill="#ff0000"/>
<circle cx="411.19" cy="391.53" r="1.6" fill="#ff0000"/>
<line x1="349.7" y1="372.1" x2="363.5" y2="372.1" stroke="#000" stroke-width="1.2"/><circle cx="356.6" cy="372.1" r="1.6" fill="#000"/>
<line x1="349.7" y1="381.5" x2="363.5" y2="381.5" stroke="#f00" stroke-width="1.2"/><circle cx="356.6" cy="381.5" r="1.6" fill="#f00"/>
<text x="366" y="375.1" font-size="8.4" font-weight="normal" text-anchor="start" fill="#000" textLength="28.6" lengthAdjust="spacingAndGlyphs" stroke="#000" stroke-width="0.3">discharge</text>
<text x="366" y="384.6" font-size="8.4" font-weight="normal" text-anchor="start" fill="#000" textLength="19.6" lengthAdjust="spacingAndGlyphs" stroke="#000" stroke-width="0.3">charge</text>
</svg>
</body></html>
